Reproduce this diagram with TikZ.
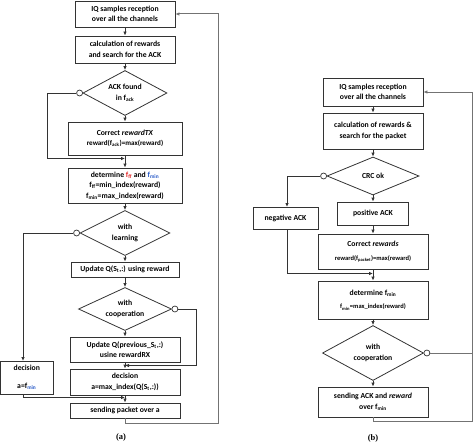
\documentclass[tikz,border=0pt]{standalone}
\usepackage{fontspec}
\setmainfont{Carlito}
\newfontfamily\capfont{Liberation Serif}
\usetikzlibrary{shapes.geometric,arrows.meta}
\definecolor{fred}{RGB}{225,40,40}
\definecolor{fblue}{RGB}{40,90,200}
\begin{document}
\begin{tikzpicture}[x=1pt,y=-1pt,
  font=\bfseries\fontsize{7.7}{10.5}\selectfont,
  bx/.style={draw=black!80, line width=0.8pt, inner sep=0pt, align=center, fill=white},
  dia/.style={draw=black!80, line width=0.8pt, diamond, aspect=2, inner sep=0pt, align=center},
  circ/.style={circle, draw=black!80, line width=0.7pt, fill=white, minimum size=6pt, inner sep=0pt},
  ln/.style={draw=black!80, line width=0.8pt},
  arr/.style={ln, -{Latex[length=4pt,width=3.5pt]}},
  lp/.style={draw=black!55, line width=1pt},
  lparr/.style={lp, -{Latex[length=4pt,width=3.5pt]}},
  captxt/.style={font=\capfont\bfseries\fontsize{8.5}{10}\selectfont}]
\useasboundingbox (0,0) rectangle (474,444);
% ---------------- (a) ----------------
\node[bx, minimum width=100pt, minimum height=26pt] (a1) at (125,14) {IQ samples reception\\over all the channels};
\node[bx, minimum width=100pt, minimum height=27pt] (a2) at (125,49.5) {calculation of rewards\\and search for the ACK};
\node[dia, minimum width=84pt, minimum height=45pt] (ad1) at (125,93) {ACK found\\in f\textsubscript{ack}};
\node[bx, minimum width=114pt, minimum height=33pt] (a3) at (125,138.5) {Correct \textit{rewardTX}\\{\fontsize{7.1}{9.5}\selectfont reward(f\textsubscript{ack})=max(reward)}};
\node[bx, minimum width=114pt, minimum height=35pt] (a4) at (125,185.5) {determine {\color{fred}f\textsubscript{ff}} and {\color{fblue}f\textsubscript{min}}\\f\textsubscript{ff}=min\_index(reward)\\f\textsubscript{min}=max\_index(reward)};
\node[dia, minimum width=90pt, minimum height=45pt] (ad2) at (125,233) {with\\learning};
\node[bx, minimum width=108pt, minimum height=15pt] (a5) at (125,269.5) {Update Q(S\textsubscript{t},:) using reward};
\node[dia, minimum width=93pt, minimum height=43pt] (ad3) at (125,309) {with\\cooperation};
\node[bx, minimum width=110pt, minimum height=25pt] (a6) at (125,349.5) {Update Q(previous\_S\textsubscript{t},:)\\usine rewardRX};
\node[bx, minimum width=110pt, minimum height=26pt] (a7) at (125,382) {decision\\a=max\_index(Q(S\textsubscript{t},:))};
\node[bx, minimum width=110pt, minimum height=15pt] (a8) at (125,410.5) {sending packet over a};
\node[bx, minimum width=53pt, minimum height=33pt] (aL) at (26.8,377.5) {decision\\[7pt]a=f\textsubscript{\color{fblue}min}};
\node[captxt] (capa) at (121,437) {(a)};
% circles
\node[circ] (c1) at ([xshift=-3pt]ad1.west) {};
\node[circ] (c2) at ([xshift=-3pt]ad2.west) {};
\node[circ] (c3) at ([xshift=3pt]ad3.east) {};
% helper coordinates
\coordinate (j1) at (125,158.5);
\coordinate (j2) at (125,365.5);
\coordinate (j3) at (125,397.5);
\coordinate (aLn) at (23,361);
\coordinate (aLs) at (23,394);
% connectors
\draw[arr] (a1) -- (a2);
\draw[arr] (a2) -- (ad1);
\draw[arr] (ad1) -- (a3);
\draw[arr] (a3) -- (a4);
\draw[arr] (c1.west) -| (47,158.5) -- (j1);
\draw[arr] (a4) -- (ad2);
\draw[arr] (ad2) -- (a5);
\draw[arr] (a5) -- (ad3);
\draw[arr] (ad3) -- (a6);
\draw[arr] (a6) -- (a7);
\draw[arr] (c3.east) -| (196,365.5) -- (j2);
\draw[arr] (c2.west) -| (aLn);
\draw[arr] (aLs) |- (j3);
\draw[arr] (a7) -- (a8);
\draw[lparr] (a8.south) |- (218,423.5) |- (a1.east);
% ---------------- (b) ----------------
\node[bx, minimum width=100pt, minimum height=28pt] (b1) at (373,92) {IQ samples reception\\over all the channels};
\node[bx, minimum width=100pt, minimum height=36pt] (b2) at (373,131) {calculation of rewards \&\\search for the packet};
\node[dia, minimum width=92pt, minimum height=38pt] (bd1) at (373,176) {CRC ok};
\node[bx, minimum width=65pt, minimum height=22pt] (bn) at (285.5,218) {negative ACK};
\node[bx, minimum width=71pt, minimum height=23pt] (bp) at (373,213.5) {positive ACK};
\node[bx, minimum width=110pt, minimum height=35pt] (b3) at (373,251.5) {Correct \textit{rewards}\\[3pt]{\fontsize{6.5}{8}\selectfont reward(f\textsubscript{packet})=max(reward)}};
\node[bx, minimum width=110pt, minimum height=38pt] (b4) at (373,300) {determine f\textsubscript{min}\\[3pt]{\fontsize{6.5}{8}\selectfont f\textsubscript{min}=max\_index(reward)}};
\node[dia, minimum width=101pt, minimum height=55pt] (bd2) at (373,353) {with\\cooperation};
\node[bx, minimum width=110pt, minimum height=30pt] (b5) at (373,402) {sending ACK and \textit{reward}\\over f\textsubscript{min}};
\node[captxt] (capb) at (373,438) {(b)};
\node[circ] (c4) at ([xshift=-3pt]bd1.west) {};
\node[circ] (c5) at ([xshift=3pt]bd2.east) {};
\coordinate (j4) at (373,273.5);
\coordinate (bnn) at (287,207);
\coordinate (bns) at (287,229);
\draw[arr] (b1) -- (b2);
\draw[arr] (b2) -- (bd1);
\draw[arr] (bd1) -- (bp);
\draw[arr] (bp) -- (b3);
\draw[arr] (b3) -- (b4);
\draw[arr] (c4.west) -| (bnn);
\draw[arr] (bns) |- (j4);
\draw[arr] (b4) -- (bd2);
\draw[arr] (bd2) -- (b5);
\draw[lp] (c5.east) -- (472.5,353);
\draw[lparr] (b5.south) |- (472.5,421.5) |- (b1.east);
\end{tikzpicture}
\end{document}
